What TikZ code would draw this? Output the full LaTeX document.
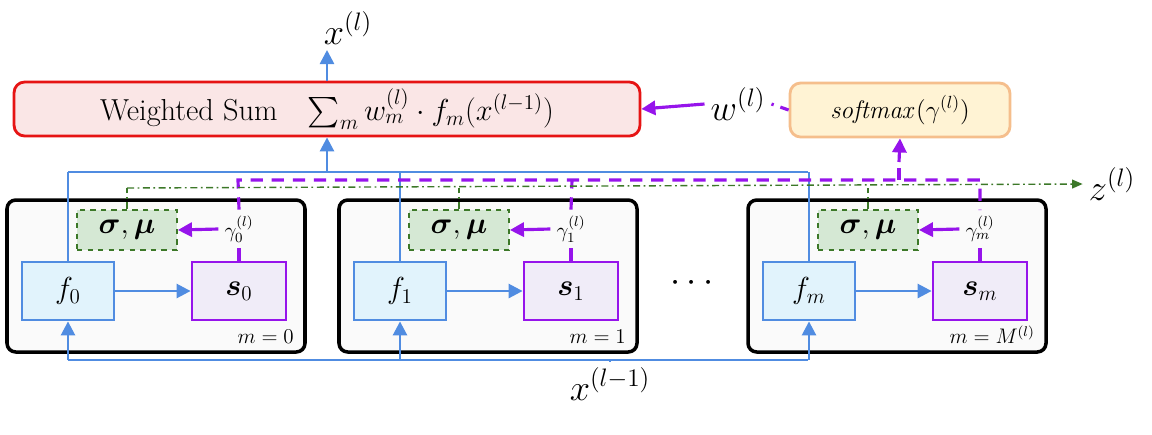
\documentclass[tikz,border=0pt]{standalone}
\usepackage{amsmath,amssymb,bm}
\usetikzlibrary{arrows.meta,positioning}
\definecolor{fblue}{RGB}{80,140,225}
\definecolor{ffill}{RGB}{225,243,252}
\definecolor{spurple}{RGB}{150,20,235}
\definecolor{sfill}{RGB}{240,236,248}
\definecolor{dgreen}{RGB}{60,120,40}
\definecolor{gfill}{RGB}{213,232,212}
\definecolor{sumred}{RGB}{230,20,20}
\definecolor{sumfill}{RGB}{250,230,230}
\definecolor{smorange}{RGB}{245,190,140}
\definecolor{smfill}{RGB}{255,243,212}
\tikzset{
  modbox/.style={draw,line width=2pt,rounded corners=5pt,fill=gray!4},
  fbox/.style={draw=fblue,line width=1.6pt,fill=ffill,minimum width=1.84cm,minimum height=1.16cm,font=\LARGE},
  sbox/.style={draw=spurple,line width=1.6pt,fill=sfill,minimum width=1.88cm,minimum height=1.16cm,font=\LARGE},
  gbox/.style={draw=dgreen,dashed,line width=1pt,fill=gfill,minimum width=2cm,minimum height=0.8cm,font=\LARGE\bfseries},
  blueline/.style={fblue,line width=1.5pt},
  purpdash/.style={spurple,line width=1.8pt,dash pattern=on 7pt off 5pt},
  greenline/.style={dgreen,line width=0.8pt,dash pattern=on 4pt off 2pt on 1pt off 2pt},
  tip/.style={-{Triangle[length=8pt,width=8pt]}}
}
\begin{document}
\begin{tikzpicture}[x=0.02cm,y=-0.02cm]
\useasboundingbox (0,0) rectangle (1152,434);
%top boxes
\node[draw=sumred,line width=1.6pt,fill=sumfill,rounded corners=6pt,minimum width=12.52cm,minimum height=1.08cm,font=\LARGE] (sum) at (327,109)
  {Weighted Sum\quad $\sum_m w_m^{(l)}\cdot f_m(x^{(l-1)})$};
\node[draw=smorange,line width=1.6pt,fill=smfill,rounded corners=6pt,minimum width=4.4cm,minimum height=1.08cm,font=\Large] (soft) at (900,110)
  {$\mathit{softmax}(\gamma^{(l)})$};
\node[font=\huge] (w) at (738,104) {$w^{(l)}$};
\node[font=\huge] (xout) at (348,28) {$x^{(l)}$};
\node[font=\huge] (xin) at (610,384) {$x^{(l-1)}$};
\node[font=\huge] (z) at (1112,184) {$z^{(l)}$};
\node[font=\huge] (dots) at (695,283) {$\cdots$};
\draw[blueline,tip] (sum.north) -- (327,50);
\draw[spurple,line width=1.8pt,dash pattern=on 5pt off 4pt on 2pt off 4pt] (soft.west) -- (w.east);
\draw[spurple,line width=1.8pt,tip] (w.west) -- (sum.east);
%modules
\foreach \i/\xo/\lab/\mlab in {0/0/0/{m=0},1/332/1/{m=1},2/741/m/{m=M^{(l)}}}{
  \draw[modbox] (7+\xo,200) rectangle (305+\xo,352);
  \node[gbox] (g\i) at (127+\xo,230) {$\bm{\sigma},\bm{\mu}$};
  \node[fbox] (f\i) at (68+\xo,291) {$f_{\lab}$};
  \node[sbox] (s\i) at (239+\xo,291) {$\bm{s}_{\lab}$};
  \node[font=\large] (gam\i) at (239+\xo,229) {$\gamma_{\lab}^{(l)}$};
  \node[anchor=south east,font=\large] (m\i) at (300+\xo,350) {$\mlab$};
  \draw[blueline,tip] (f\i.east) -- (s\i.west);
  \draw[spurple,line width=1.8pt,tip] (gam\i.west) -- (g\i.east);
  \draw[purpdash] (s\i.north) -- (gam\i.south);
  \draw[greenline] (g\i.north) -- (127+\xo,188);
  \draw[blueline] (f\i.north) -- (68+\xo,172);
  \draw[blueline,tip] (68+\xo,360) -- (f\i.south);
}
%connections
\draw[blueline] (68,172) -- (808,172);
\draw[blueline,tip] (327,172) -- (sum.south);
\draw[blueline] (68,360) -- (808,360);
\draw[blueline] (xin.north) -- (610,360);
\draw[purpdash] (gam0.north) -- (238,180) -- (980,180) -- (gam2.north);
\draw[purpdash] (gam1.north) -- (572,180);
\draw[spurple,line width=1.8pt,dash pattern=on 7pt off 5pt] (899,180) -- (899,160);
\draw[spurple,line width=1.8pt,tip] (899,162) -- (soft.south);
\draw[greenline,-{Triangle[length=6pt,width=5pt]}] (127,188) -- (z.west);
\end{tikzpicture}
\end{document}
